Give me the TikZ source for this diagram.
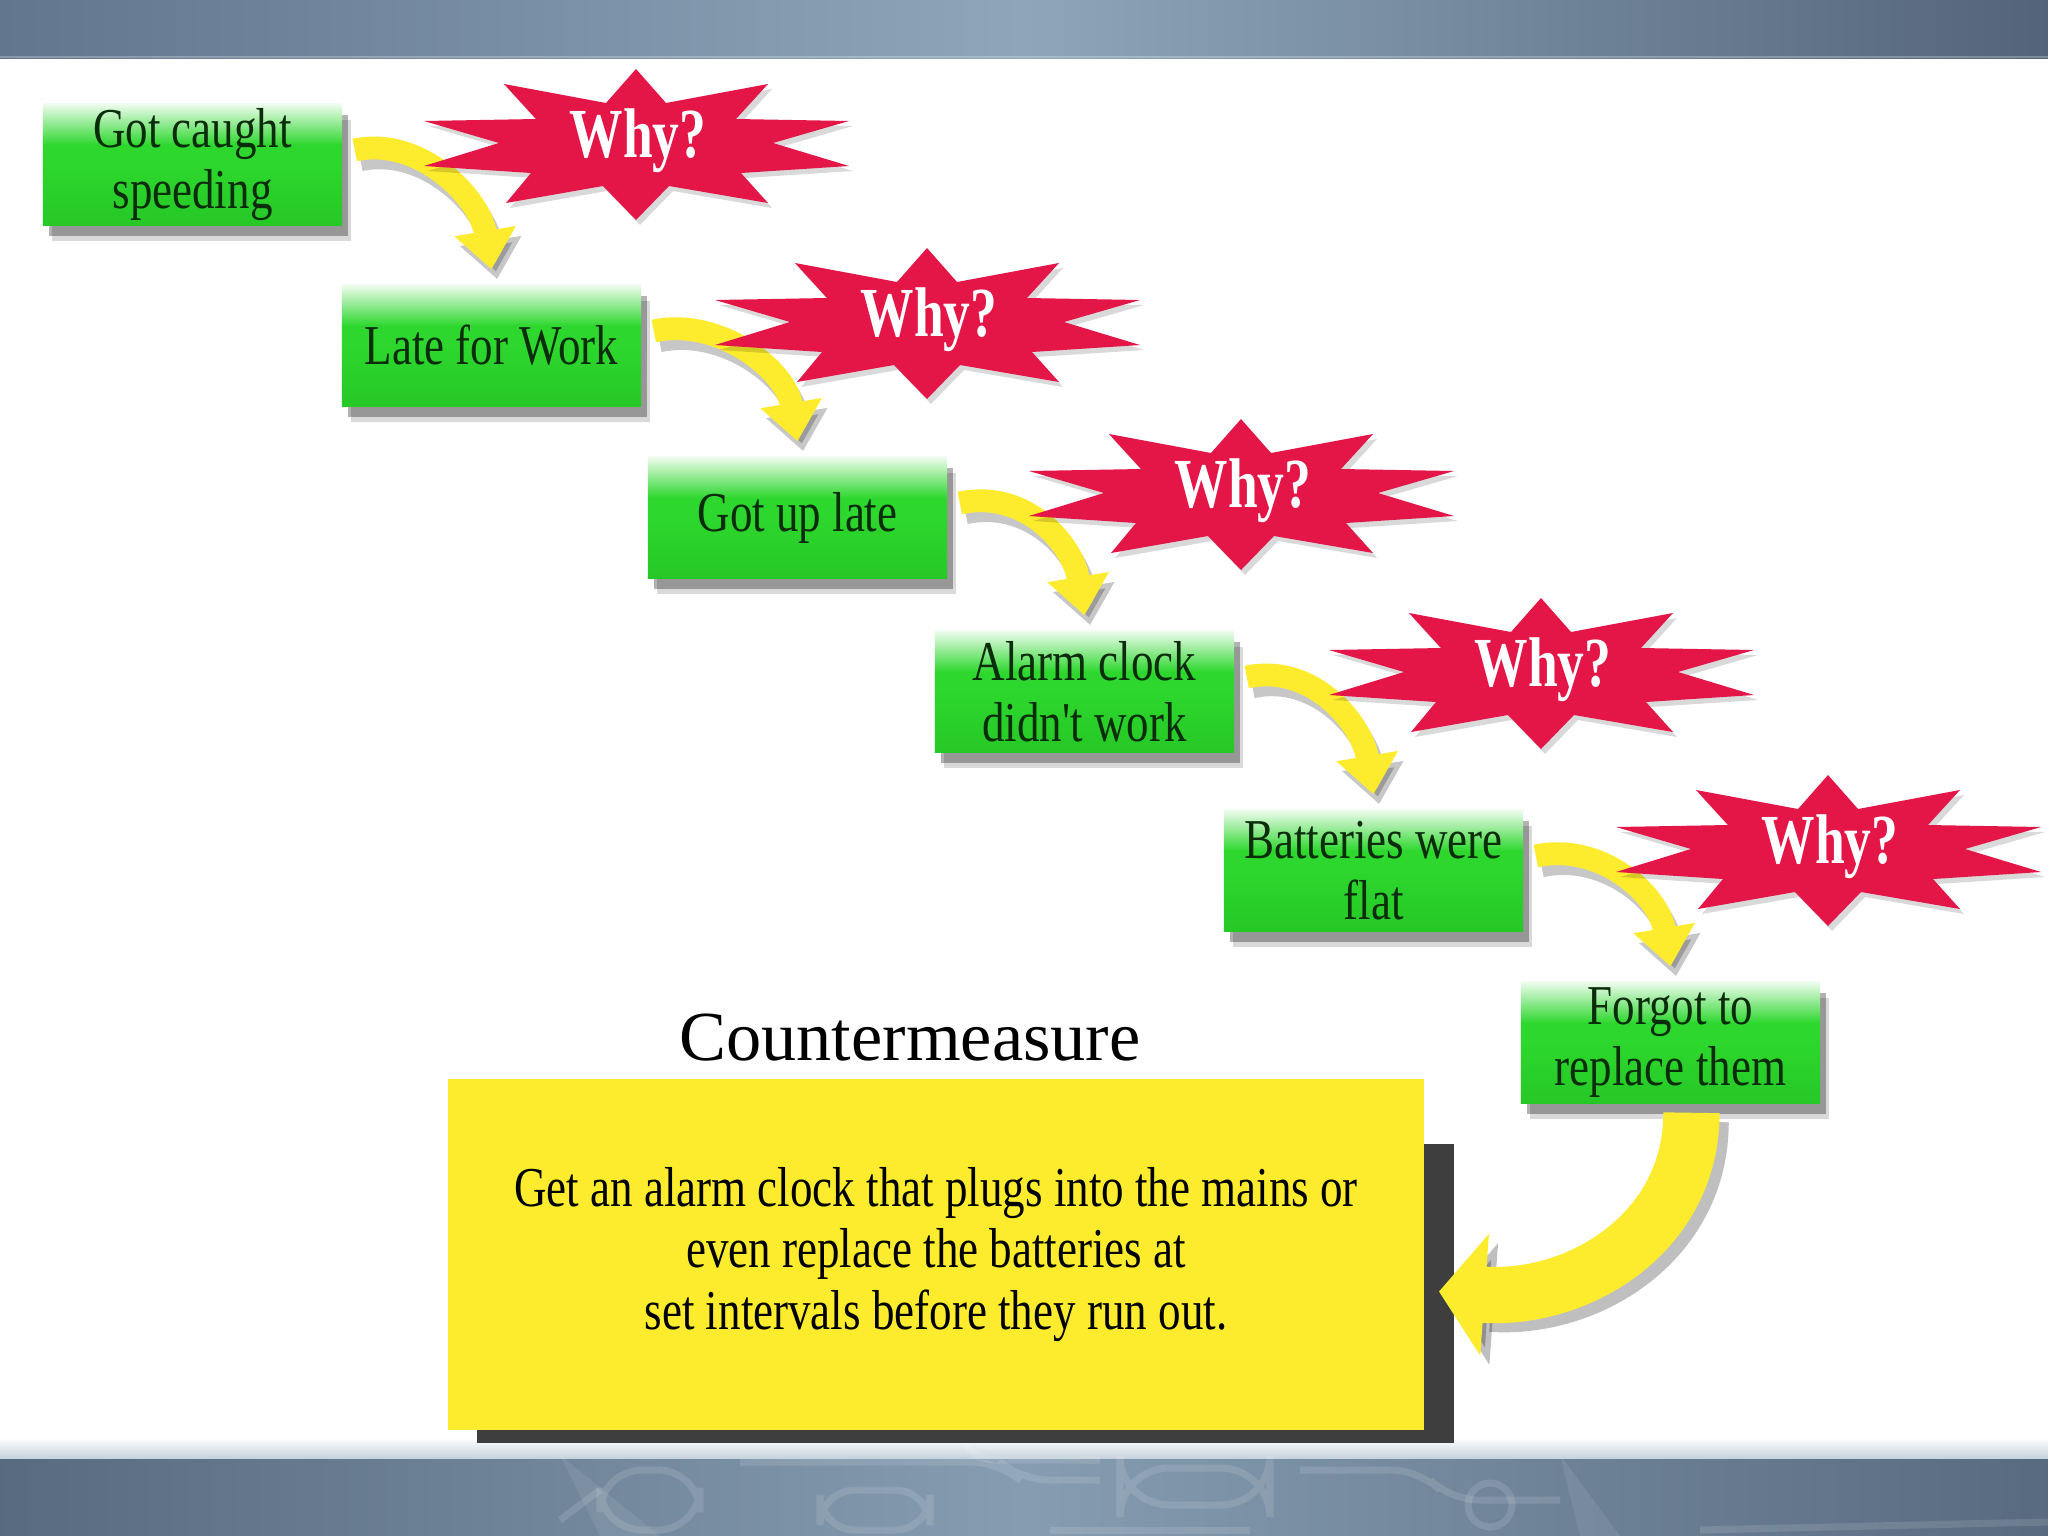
\documentclass[tikz,border=0pt]{standalone}
\usepackage{fontspec}
\setmainfont{Liberation Serif}
\newfontfamily\condfont[FakeStretch=0.8]{Liberation Serif}
\newfontfamily\whyfont[FakeStretch=0.76]{Liberation Serif Bold}
\usetikzlibrary{arrows.meta,shadows}

\definecolor{gmain}{RGB}{45,215,45}
\definecolor{gdark}{RGB}{38,200,38}
\definecolor{gwhite}{RGB}{238,252,238}
\definecolor{ylw}{RGB}{252,236,45}
\definecolor{whyred}{RGB}{228,22,72}
\definecolor{txtgreen}{RGB}{12,45,12}
\definecolor{bardark}{RGB}{98,118,142}
\definecolor{barlight}{RGB}{142,166,186}
\definecolor{shadowgray}{RGB}{62,62,62}

\pgfdeclareverticalshading{greenbox}{100bp}{color(0bp)=(gdark); color(25bp)=(gdark); color(50bp)=(gmain); color(58bp)=(gmain); color(75bp)=(gwhite); color(100bp)=(gwhite)}

\newcommand\starpath{(0,-77) -- (-30,-43) -- (-132,-62) -- (-100,-27) -- (-212,-25) -- (-137,-3) -- (-212,20) -- (-105,27) -- (-130,57) -- (-33,40) -- (0,74) -- (33,40) -- (132,57) -- (105,27) -- (213,20) -- (137,-3) -- (213,-25) -- (100,-27) -- (132,-62) -- (30,-43) -- cycle}

\begin{document}
\begin{tikzpicture}[x=0.01cm,y=-0.01cm,
  gbox/.style={shading=greenbox, minimum width=2.99cm, minimum height=1.21cm,
    inner sep=0pt, align=center, font=\condfont\fontsize{16}{17.4}\selectfont, text=txtgreen,
    drop shadow={shadow xshift=2.6pt, shadow yshift=-4.6pt, opacity=.15, fill=black},
    drop shadow={shadow xshift=1.6pt, shadow yshift=-3pt, opacity=.3, fill=black}},
  cmbox/.style={fill=ylw, minimum width=9.76cm, minimum height=3.51cm, inner sep=0pt,
    align=center, font=\condfont\fontsize{16}{17.4}\selectfont, text=black},
  titletxt/.style={font=\fontsize{20}{24}\selectfont, text=black, inner sep=0pt},
  whytxt/.style={font=\whyfont\fontsize{20}{24}\selectfont, text=white, inner sep=0pt},
  yarrow/.style={draw=ylw, line width=6.5pt, -{Triangle[length=11pt,width=17pt]}},
  yshadow/.style={draw=black, opacity=.22, line width=6.5pt, -{Triangle[length=11pt,width=17pt]}},
  bigarrow/.style={draw=ylw, line width=16pt, -{Triangle[length=13pt,width=34pt]}},
  bigshadow/.style={draw=black, opacity=.25, line width=16pt, -{Triangle[length=13pt,width=34pt]}},
  starfill/.style={fill=whyred},
  starshadow/.style={fill=black, opacity=.15}
]
\useasboundingbox (0,0) rectangle (2048,1536);
\fill[white] (0,0) rectangle (2048,1536);

% top bar
\shade[left color=bardark, right color=bardark!85!black, middle color=barlight] (0,0) rectangle (2048,58);
\fill[white, opacity=.25] (0,56) rectangle (2048,58);

% bottom bar
\shade[top color=white, bottom color=barlight!55] (0,1438) rectangle (2048,1460);
\shade[left color=bardark!90!black, right color=bardark!90!black, middle color=barlight!80!bardark] (0,1459) rectangle (2048,1536);
\begin{scope}
  \clip (0,1440) rectangle (2048,1536);
  \begin{scope}[draw=white, opacity=.12, line width=2pt]
    \draw[rounded corners=12] (600,1470) rectangle (700,1530);
    \draw[rounded corners=10] (820,1490) rectangle (930,1530);
    \draw[rounded corners=14] (1120,1468) rectangle (1270,1505);
    \draw (1490,1505) circle (22);
    \draw[rounded corners=8] (740,1462) -- (1000,1462) -- (1020,1480) -- (1100,1480);
    \draw[rounded corners=8] (560,1520) -- (600,1490);
    \draw[rounded corners=8] (1300,1470) -- (1420,1470) -- (1450,1500) -- (1560,1500);
    \draw (1050,1530) -- (1250,1530);
    \draw (1700,1530) -- (2048,1522);
    \draw[rounded corners=10] (960,1440) -- (960,1460) -- (1100,1460);
  \end{scope}
  \fill[white, opacity=.08] (560,1455) -- (660,1536) -- (600,1536) -- cycle;
  \fill[white, opacity=.08] (1560,1455) -- (1620,1536) -- (1580,1536) -- cycle;
\end{scope}

% countermeasure
\fill[shadowgray] (477,1144) rectangle (1454,1443);
\node[cmbox] (cm) at (936,1254.5) {Get an alarm clock that plugs into the mains or\\ even replace the batteries at\\ set intervals before they run out.};
\node[titletxt] (title) at (910,1038) {Countermeasure};

% green boxes
\node[gbox] (b1) at (192.5,164.5) {Got caught\\ speeding};
\node[gbox] (b2) at (491.5,345.5) {Late for Work};
\node[gbox] (b3) at (797.5,517.5) {Got up late};
\node[gbox] (b4) at (1084.5,691.5) {Alarm clock\\ didn't work};
\node[gbox] (b5) at (1373.5,870.5) {Batteries were\\ flat};
\node[gbox] (b6) at (1670.5,1042.5) {Forgot to\\ replace them};

% small curved arrows
\foreach \a/\b in {b1/b2,b2/b3,b3/b4,b4/b5,b5/b6}{
  \draw[yshadow, transform canvas={xshift=1.6pt,yshift=-2.8pt}] ([shift={(12,-14.5)}]\a.east) .. controls +(65,-14) and +(-12,-72) .. ([shift={(0,-15)}]\b.north);
  \draw[yarrow] ([shift={(12,-14.5)}]\a.east) .. controls +(65,-14) and +(-12,-72) .. ([shift={(0,-15)}]\b.north);
}

% starbursts
\coordinate (c1) at (636,146);
\coordinate (c2) at (927,325);
\coordinate (c3) at (1241,496);
\coordinate (c4) at (1541,675);
\coordinate (c5) at (1828,852);
\foreach \c in {c1,c2,c3,c4,c5}{
  \fill[starshadow, shift={(\c)}, shift={(4,5)}] \starpath;
  \fill[starfill, shift={(\c)}] \starpath;
}
\node[whytxt] (w1) at ([shift={(2,-5)}]c1) {Why?};
\node[whytxt] (w2) at ([shift={(2,-5)}]c2) {Why?};
\node[whytxt] (w3) at ([shift={(2,-5)}]c3) {Why?};
\node[whytxt] (w4) at ([shift={(2,-5)}]c4) {Why?};
\node[whytxt] (w5) at ([shift={(2,-5)}]c5) {Why?};

% big arrow to countermeasure
\draw[bigshadow, transform canvas={xshift=2.6pt,yshift=-2.6pt}] ([shift={(21,9)}]b6.south) .. controls +(0,120) and +(140,10) .. ([shift={(14,37)}]cm.east);
\draw[bigarrow] ([shift={(21,9)}]b6.south) .. controls +(0,120) and +(140,10) .. ([shift={(14,37)}]cm.east);
\end{tikzpicture}
\end{document}
